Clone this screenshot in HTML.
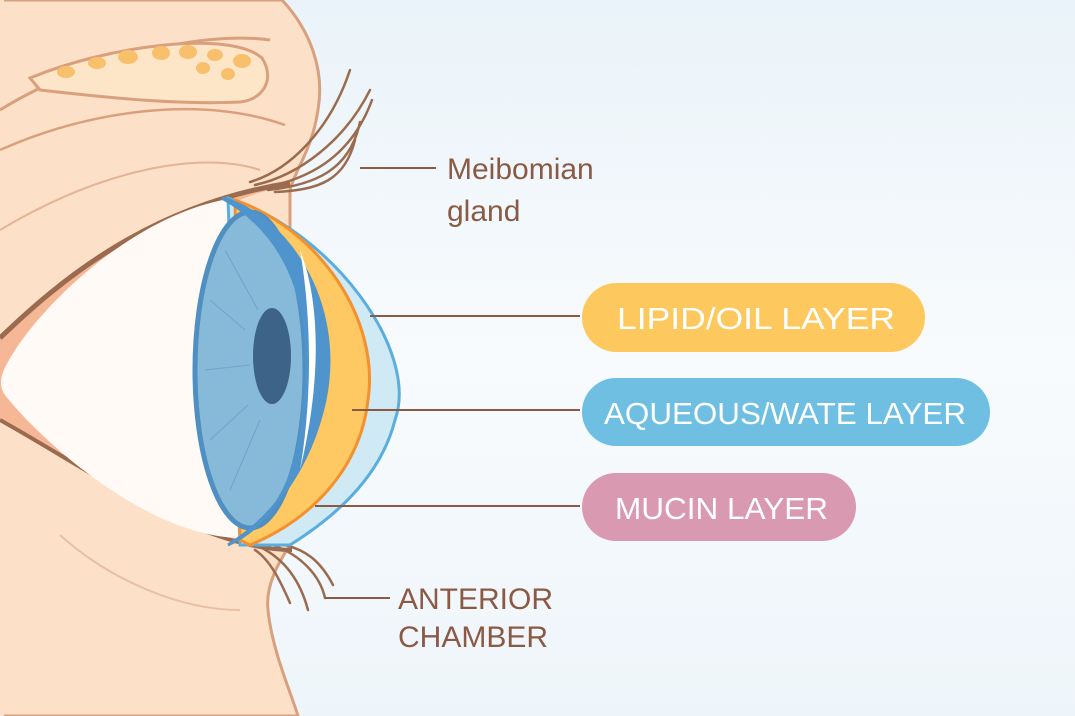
<!DOCTYPE html>
<html><head><meta charset="utf-8"><style>
html,body{margin:0;padding:0;width:1075px;height:716px;overflow:hidden;background:#fff}
</style></head><body>
<svg width="1075" height="716" viewBox="0 0 1075 716" xmlns="http://www.w3.org/2000/svg">
<defs>
<linearGradient id="bg" x1="0" y1="0" x2="0" y2="1"><stop offset="0" stop-color="#eaf3f9"/><stop offset="0.5" stop-color="#f8fbfd"/><stop offset="1" stop-color="#eef5fa"/></linearGradient>
</defs>
<rect width="1075" height="716" fill="url(#bg)"/>
<!-- skin -->
<path d="M0,0 L282,0 C310,30 325,70 318,110 C312,150 295,170 290,190 L290,545 C280,560 265,585 268,610 C272,650 290,690 298,716 L0,716 Z" fill="#fce1c8" stroke="#d9a07e" stroke-width="3"/>
<rect x="0" y="0" width="4" height="716" fill="#fce1c8"/>
<!-- brow folds -->
<path d="M0,110 C80,60 200,30 270,40" fill="none" stroke="#d9a07e" stroke-width="3"/>
<path d="M0,150 C90,110 200,95 285,125" fill="none" stroke="#d9a07e" stroke-width="2.5"/>
<path d="M30,78 C110,45 230,30 262,58 C276,80 262,100 240,102 C180,105 110,98 40,90 Z" fill="#fde5c8" stroke="#d9a07e" stroke-width="3"/>
<g fill="#f8c06a"><ellipse cx="66" cy="72" rx="9" ry="6"/><ellipse cx="97" cy="63" rx="9" ry="6"/><ellipse cx="128" cy="57" rx="10" ry="7"/><ellipse cx="161" cy="53" rx="9" ry="7"/><ellipse cx="188" cy="52" rx="9" ry="7"/><ellipse cx="215" cy="55" rx="8" ry="6"/><ellipse cx="242" cy="61" rx="9" ry="7"/><ellipse cx="203" cy="68" rx="7" ry="6"/><ellipse cx="228" cy="74" rx="7" ry="6"/></g>
<path d="M0,230 C100,170 200,150 260,170" fill="none" stroke="#e3b394" stroke-width="2"/>
<path d="M60,535 C110,580 180,610 240,610" fill="none" stroke="#e8bfa3" stroke-width="2"/>
<!-- eye outer rim -->
<path d="M0,338 C60,280 150,205 290,183 C270,190 250,195 240,200 L245,545 C260,548 280,550 292,550 C200,550 90,470 0,420 Z" fill="#f6b796"/>
<path d="M0,338 C60,280 150,205 290,183" fill="none" stroke="#9a6b4e" stroke-width="5"/>
<path d="M0,420 C90,470 200,550 292,550" fill="none" stroke="#9a6b4e" stroke-width="4"/>
<!-- white -->
<path d="M3,372 C25,320 130,212 235,198 L245,538 C150,540 40,440 5,395 C0,388 0,380 3,372 Z" fill="#fffaf5"/>
<!-- lashes top -->
<g fill="none" stroke="#9a6b4e" stroke-width="2.5" stroke-linecap="round">
<path d="M250,182 C290,170 330,130 350,70"/><path d="M255,185 C300,175 345,140 370,90"/><path d="M262,188 C305,180 350,160 372,100"/><path d="M268,190 C315,185 350,170 360,122"/><path d="M275,192 C320,190 345,180 355,140"/>
</g>
<!-- lashes bottom -->
<g fill="none" stroke="#9a6b4e" stroke-width="2.5" stroke-linecap="round">
<path d="M262,548 C285,560 300,580 308,610"/><path d="M275,546 C300,555 320,575 325,598"/><path d="M285,545 C305,550 320,560 333,585"/><path d="M255,550 C270,560 280,580 290,603"/>
</g>
<!-- tear film layers -->
<path d="M228,198 C330,230 420,350 395,420 C380,480 330,520 290,545 L240,545 Z" fill="#cfe9f5" stroke="#5aaede" stroke-width="3"/>
<path d="M235,200 C320,230 380,320 368,400 C360,470 310,520 250,545 L240,540 Z" fill="#fec863" stroke="#f5902c" stroke-width="3"/>
<!-- iris -->
<ellipse cx="250" cy="370" rx="55" ry="158" fill="#87bad8" stroke="#4f8fc2" stroke-width="5"/>
<g stroke="#6ea5c8" stroke-width="1"><path d="M210,300 L245,330"/><path d="M205,370 L250,365"/><path d="M210,440 L248,405"/><path d="M225,250 L258,310"/><path d="M230,490 L260,420"/></g>
<ellipse cx="272" cy="356" rx="19" ry="48" fill="#3d6389"/>
<!-- cornea -->
<path d="M222,198 C285,215 345,300 325,400 C310,470 270,520 228,545 C280,520 300,470 305,400 C315,310 290,235 222,198 Z" fill="#4f94cc" stroke="#4f94cc" stroke-width="3"/>
<path d="M300,250 C320,300 322,380 300,470 C312,400 312,320 300,250 Z" fill="#fff"/>
<!-- connectors -->
<g stroke="#8a5a44" stroke-width="2" fill="none">
<path d="M360,168 L436,168"/><path d="M370,316 L580,316"/><path d="M352,410 L580,410"/><path d="M315,506 L580,506"/><path d="M325,598 L390,598"/>
</g>
<!-- labels -->
<g font-family="Liberation Sans, sans-serif" font-size="30" fill="#8a5a44">
<text x="447" y="179">Meibomian</text><text x="447" y="221">gland</text>
<text x="398" y="609">ANTERIOR</text><text x="398" y="647">CHAMBER</text>
</g>
<rect x="582" y="283" width="343" height="69" rx="34.5" fill="#fdc95f"/>
<rect x="582" y="378" width="408" height="68" rx="34" fill="#6fbfe2"/>
<rect x="582" y="473" width="274" height="68" rx="34" fill="#d99ab1"/>
<g font-family="Liberation Sans, sans-serif" font-size="31" fill="#fff">
<text x="617" y="329" textLength="278" lengthAdjust="spacingAndGlyphs">LIPID/OIL LAYER</text>
<text x="604" y="424" textLength="362" lengthAdjust="spacingAndGlyphs">AQUEOUS/WATE LAYER</text>
<text x="615" y="519" textLength="213" lengthAdjust="spacingAndGlyphs">MUCIN LAYER</text>
</g>
</svg>
</body></html>
